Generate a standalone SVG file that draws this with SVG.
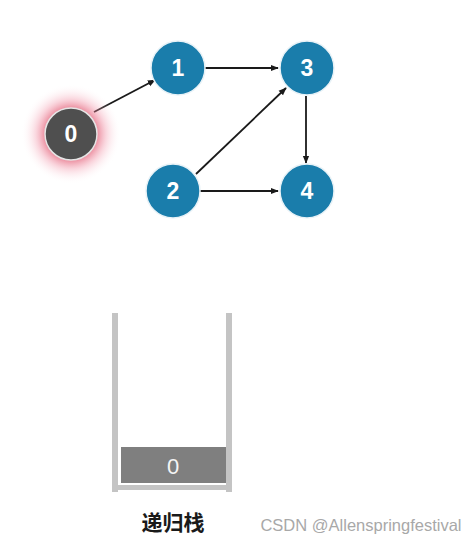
<svg xmlns="http://www.w3.org/2000/svg" width="474" height="543" viewBox="0 0 474 543">
<style>
.node{fill:#1a7dab;stroke:#e8f2f7;stroke-width:1.5}
.lbl{font-family:"Liberation Sans",Arial,sans-serif;font-size:23px;font-weight:bold;fill:#ffffff;text-anchor:middle;dominant-baseline:central}
.edge{stroke:#1a1a1a;stroke-width:1.8;fill:none;marker-end:url(#ah)}
.bar{fill:#c4c4c4}
</style>
<defs>
<marker id="ah" viewBox="0 0 10 10" refX="9" refY="5" markerWidth="8" markerHeight="8" orient="auto" markerUnits="userSpaceOnUse">
<path d="M0,1 L10,5 L0,9 z" fill="#1a1a1a"/>
</marker>
<radialGradient id="glow" cx="0.5" cy="0.5" r="0.5">
<stop offset="0.5" stop-color="#e0506a" stop-opacity="0.7"/>
<stop offset="0.7" stop-color="#f08aa0" stop-opacity="0.35"/>
<stop offset="1" stop-color="#ffffff" stop-opacity="0"/>
</radialGradient>
</defs>
<rect width="474" height="543" fill="#ffffff"/>
<g id="connectors">
<line class="edge" x1="94" y1="112" x2="155" y2="80"/>
<line class="edge" x1="205" y1="68" x2="278" y2="68"/>
<line class="edge" x1="196" y1="174" x2="286" y2="88"/>
<line class="edge" x1="199" y1="191" x2="278" y2="191"/>
<line class="edge" x1="306" y1="96" x2="306" y2="163"/>
</g>
<g id="node0">
<circle cx="71" cy="134" r="50" fill="url(#glow)"/>
<circle cx="71" cy="134" r="26" fill="#4f4f4f" stroke="#e5e5e5" stroke-width="1.5"/>
<text class="lbl" x="71" y="134" font-size="20">0</text>
</g>
<g id="node1"><circle class="node" cx="178" cy="68" r="27"/><text class="lbl" x="178" y="68">1</text></g>
<g id="node3"><circle class="node" cx="307" cy="68" r="27"/><text class="lbl" x="307" y="68">3</text></g>
<g id="node2"><circle class="node" cx="173" cy="191" r="27"/><text class="lbl" x="173" y="191">2</text></g>
<g id="node4"><circle class="node" cx="307" cy="191" r="27"/><text class="lbl" x="307" y="191">4</text></g>
<g id="stack">
<rect class="bar" x="112" y="313" width="6" height="179"/>
<rect class="bar" x="226" y="313" width="6" height="179"/>
<rect class="bar" x="118" y="485" width="108" height="5"/>
<rect x="121" y="447" width="105" height="36" fill="#7f7f7f"/>
<text x="173" y="466" font-family="Liberation Sans,Arial,sans-serif" font-size="22" fill="#f5f5f5" text-anchor="middle" dominant-baseline="central">0</text>
<text x="173" y="522" font-family="Liberation Sans,'Noto Sans CJK SC',sans-serif" font-size="21" font-weight="bold" fill="#1a1a1a" text-anchor="middle" dominant-baseline="central">递归栈</text>
</g>
<text x="361" y="525" font-family="Liberation Sans,Arial,sans-serif" font-size="16.5" fill="#a8a8a8" text-anchor="middle" dominant-baseline="central">CSDN @Allenspringfestival</text>
</svg>
